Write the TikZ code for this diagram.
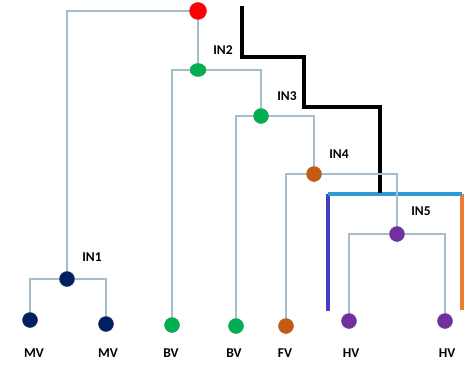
\documentclass[tikz,border=0pt]{standalone}
\usepackage{fontspec}
\setmainfont{Carlito}
\usetikzlibrary{positioning, calc, shapes.geometric}
\definecolor{treered}{HTML}{FF0000}
\definecolor{treegreen}{HTML}{00B050}
\definecolor{treenavy}{HTML}{002060}
\definecolor{treeorange}{HTML}{C55A11}
\definecolor{treepurple}{HTML}{7030A0}
\definecolor{branchgrey}{HTML}{A9BCC9}
\definecolor{cutblue}{HTML}{2E9BD6}
\definecolor{cutviolet}{HTML}{4040C0}
\definecolor{cutorange}{HTML}{ED7D31}
\tikzset{
  vert/.style={circle, fill=#1, draw=#1!75!gray, line width=0.5pt, minimum size=15pt, inner sep=0pt},
  rootvert/.style={vert=#1, minimum size=17pt},
  branch/.style={draw=branchgrey, line width=1.1pt},
  cutpath/.style={draw=black, line width=3.2pt},
  cutbar/.style={line width=3.2pt},
  leaflabel/.style={font=\fontsize{13.5}{15}\selectfont\bfseries},
  inlabel/.style={font=\fontsize{13.5}{15}\selectfont\bfseries},
}
\begin{document}
\begin{tikzpicture}[x=1pt, y=-1pt]
\useasboundingbox (0,0) rectangle (474,369);

% cut bracket
\coordinate (c1) at (328,194);
\coordinate (c2) at (462,194);
\coordinate (c3) at (328,311);
\coordinate (c4) at (462,310);
\draw[cutbar, cutviolet] (c1) -- (c3);
\draw[cutbar, cutorange] (c2) -- (c4);
\draw[cutbar, cutblue] (c1) -- (c2);

% staircase
\coordinate (s0) at (242,6);
\coordinate (s1) at (304,57);
\coordinate (s2) at (380,107);
\coordinate (s3) at (380,193);
\draw[cutpath] (s0) |- (s1) |- (s2) -- (s3);

% vertices
\node[rootvert=treered] (root) at (198,11) {};
\node[vert=treegreen, ellipse, minimum width=16pt, minimum height=13pt] (in2) at (198,70) {};
\node[vert=treegreen] (in3) at (261,116) {};
\node[vert=treeorange] (in4) at (314,174) {};
\node[vert=treepurple] (in5) at (397,234) {};
\node[vert=treenavy] (in1) at (67,279) {};

\node[vert=treenavy] (mv1) at (30,320) {};
\node[vert=treenavy] (mv2) at (106,324) {};
\node[vert=treegreen] (bv1) at (172,325) {};
\node[vert=treegreen] (bv2) at (236,326) {};
\node[vert=treeorange] (fv) at (286,326) {};
\node[vert=treepurple] (hv1) at (349,321) {};
\node[vert=treepurple] (hv2) at (445,321) {};

% branches
\draw[branch] (root) -| (in1);
\draw[branch] (root) -- (in2);
\draw[branch] (in2) -| (bv1);
\draw[branch] (in2) -| (in3);
\draw[branch] (in3) -| (bv2);
\draw[branch] (in3) -| (in4);
\draw[branch] (in4) -| (fv);
\draw[branch] (in4) -| (in5);
\draw[branch] (in5) -| (hv1);
\draw[branch] (in5) -| (hv2);
\draw[branch] (in1) -| (mv1);
\draw[branch] (in1) -| (mv2);

% internal labels
\node[inlabel] (lin1) at (92,257) {IN1};
\node[inlabel] (lin2) at (223,50) {IN2};
\node[inlabel] (lin3) at (287,96) {IN3};
\node[inlabel] (lin4) at (339,154) {IN4};
\node[inlabel] (lin5) at (421,211) {IN5};

% leaf labels
\node[leaflabel] (lmv1) at (34,353) {MV};
\node[leaflabel] (lmv2) at (108,353) {MV};
\node[leaflabel] (lbv1) at (171,353) {BV};
\node[leaflabel] (lbv2) at (234,353) {BV};
\node[leaflabel] (lfv) at (285,353) {FV};
\node[leaflabel] (lhv1) at (351,353) {HV};
\node[leaflabel] (lhv2) at (447,353) {HV};
\end{tikzpicture}
\end{document}
